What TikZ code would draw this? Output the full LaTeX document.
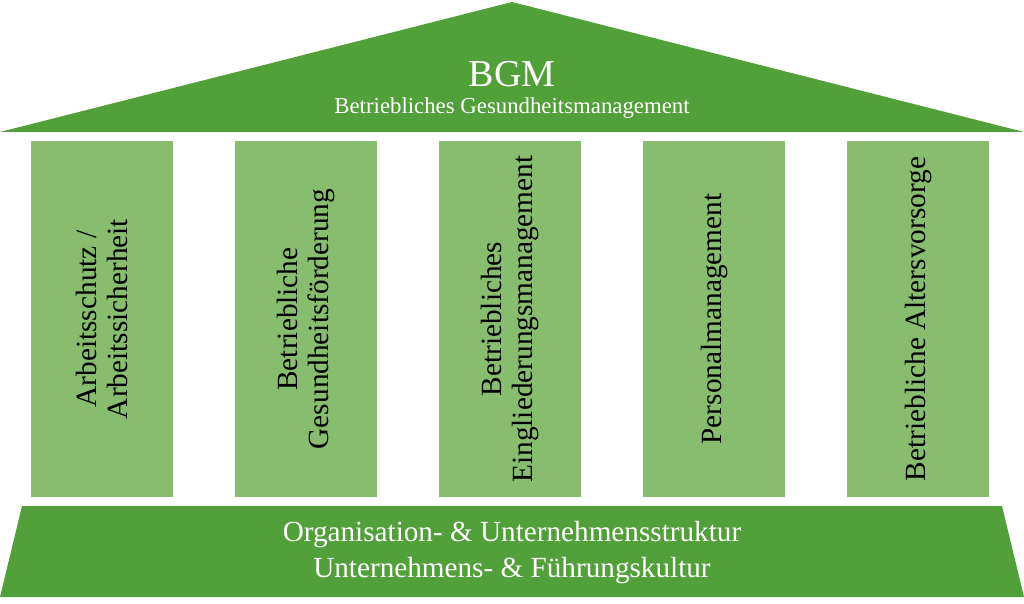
\documentclass[tikz,border=0pt]{standalone}
\usepackage{fontspec}
\setmainfont{Liberation Serif}
\definecolor{dkg}{HTML}{52A03A}
\definecolor{ltg}{HTML}{88BD70}
\begin{document}
\begin{tikzpicture}[x=1pt,y=-1pt,
  col/.style={fill=ltg,draw=none,minimum width=142pt,minimum height=356pt,inner sep=0pt},
  coltext/.style={rotate=90,align=center,font=\fontsize{29.3}{31}\selectfont,text=black}]
\useasboundingbox (0,0) rectangle (1024,604);
\fill[dkg] (0,132) -- (512,2) -- (1024,132) -- cycle;
\node[text=white,font=\fontsize{38}{40}\selectfont] (bgm) at (512,74) {BGM};
\node[text=white,font=\fontsize{22.8}{25}\selectfont] (sub) at (512,108) {Betriebliches Gesundheitsmanagement};
\foreach \x/\n/\t in {102/c1/{Arbeitsschutz /\\Arbeitssicherheit},306/c2/{Betriebliche\\Gesundheitsförderung},510/c3/{Betriebliches\\Eingliederungsmanagement},714/c4/{Personalmanagement},918/c5/{Betriebliche Altersvorsorge}}{
  \node[col] (\n) at (\x,319) {};
  \node[coltext] at (\n.center) {\t};
}
\fill[dkg] (22,506) -- (1002,506) -- (1024,597) -- (0,597) -- cycle;
\node[text=white,align=center,font=\fontsize{29.2}{36}\selectfont] (base) at (512,553) {Organisation- \& Unternehmensstruktur\\Unternehmens- \& Führungskultur};
\end{tikzpicture}
\end{document}
